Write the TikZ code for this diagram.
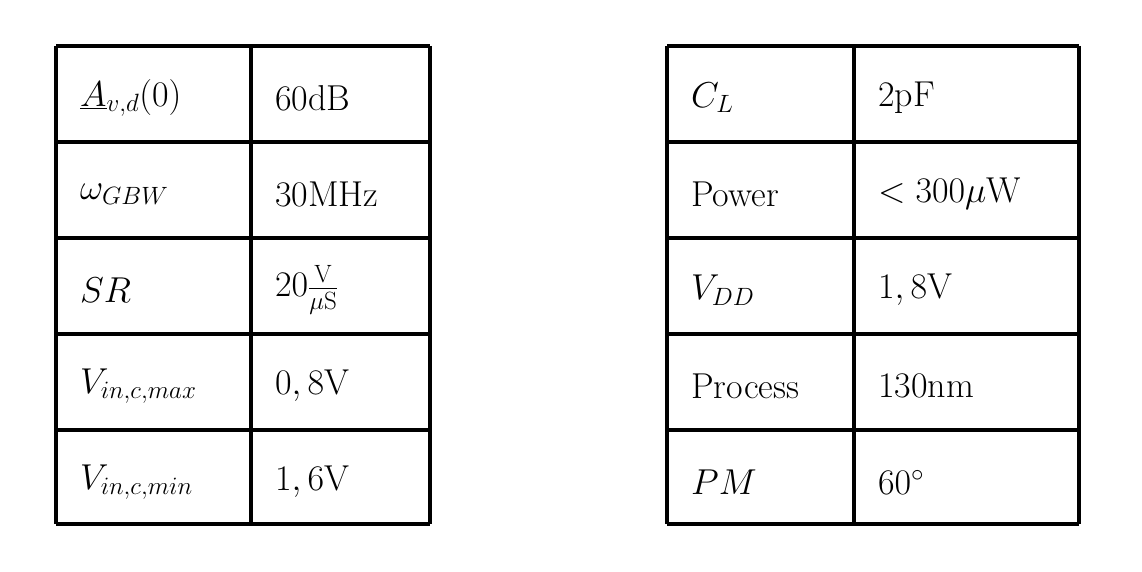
\RequirePackage{fix-cm}
\documentclass[tikz,border=0pt]{standalone}
\DeclareMathSizes{36}{36}{25}{18}
\begin{document}
\begin{tikzpicture}[x=1pt,y=-1pt,
  cell/.style={anchor=west,inner sep=0pt,font=\fontsize{36}{44}\selectfont},
  grid/.style={line width=4pt}]
\useasboundingbox (0,0) rectangle (1142,572);
% left table
\foreach \y in {46,142,238,334,430,524} \draw[grid] (56,\y) -- (430,\y);
\foreach \x in {56,251,430} \draw[grid] (\x,46) -- (\x,524);
% right table
\foreach \y in {46,142,238,334,430,524} \draw[grid] (667,\y) -- (1079,\y);
\foreach \x in {667,854,1079} \draw[grid] (\x,46) -- (\x,524);
% left contents
\node[cell] (a1) at (80,98) {$\underline{A}_{v,d}(0)$};
\node[cell] (b1) at (275,98) {60dB};
\node[cell] (a2) at (80,194) {$\omega_{GBW}$};
\node[cell] (b2) at (275,194) {30MHz};
\node[cell] (a3) at (80,290) {$SR$};
\node[cell] (b3) at (275,290) {$20\frac{\mathrm{V}}{\mu\mathrm{S}}$};
\node[cell] (a4) at (80,386) {$V_{in,c,max}$};
\node[cell] (b4) at (275,386) {$0,8$V};
\node[cell] (a5) at (80,482) {$V_{in,c,min}$};
\node[cell] (b5) at (275,482) {$1,6$V};
% right contents
\node[cell] (c1) at (691,98) {$C_L$};
\node[cell] (d1) at (878,98) {2pF};
\node[cell] (c2) at (691,194) {Power};
\node[cell] (d2) at (878,194) {$<300\mu$W};
\node[cell] (c3) at (691,290) {$V_{DD}$};
\node[cell] (d3) at (878,290) {$1,8$V};
\node[cell] (c4) at (691,386) {Process};
\node[cell] (d4) at (878,386) {130nm};
\node[cell] (c5) at (691,482) {$PM$};
\node[cell] (d5) at (878,482) {$60^\circ$};
\end{tikzpicture}
\end{document}
